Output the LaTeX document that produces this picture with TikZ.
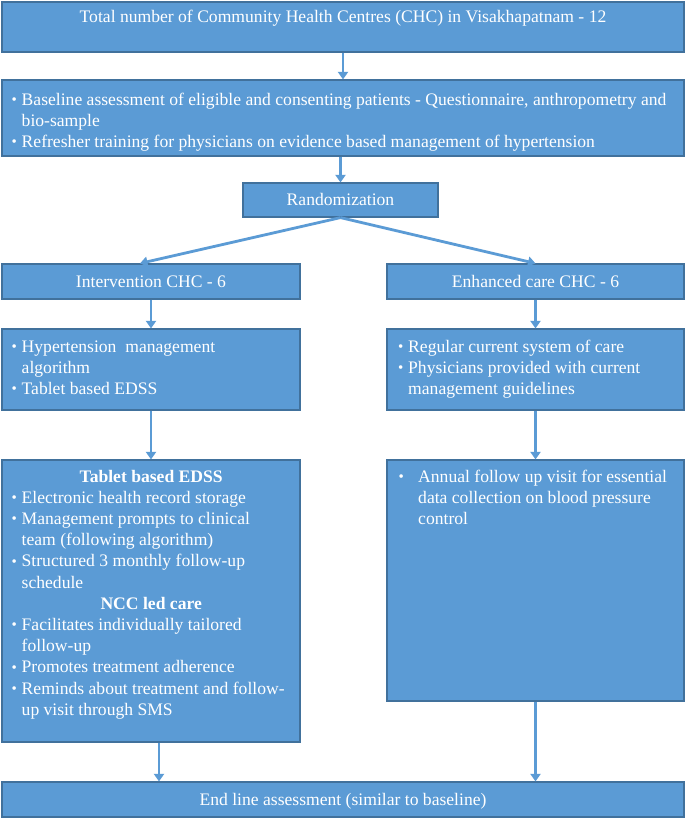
\documentclass[tikz,border=0pt]{standalone}
\usepackage{fontspec}
\setmainfont{Liberation Serif}
\usetikzlibrary{arrows.meta}
\definecolor{boxfill}{HTML}{5B9BD5}
\definecolor{boxline}{HTML}{41719C}
\definecolor{arrowblue}{HTML}{5B9BD5}
\newcommand{\bulglyph}{\raisebox{0.6pt}{\fontsize{15}{15}\selectfont\textbullet}}
\newcommand{\bul}{\makebox[10pt][l]{\bulglyph}}
\newcommand{\ind}{\hspace*{10pt}}
\renewcommand{\arraystretch}{1}
\begin{document}
\begin{tikzpicture}[x=1pt,y=-1pt,
  box/.style={draw=boxline, fill=boxfill, line width=1.2pt, rectangle, inner sep=0pt,
    text=white, font=\fontsize{17.6}{21}\selectfont},
  onel/.style={box, text height=12pt, text depth=0.5pt},
  txt/.style={text=white, inner sep=0pt, anchor=base west, font=\fontsize{17.6}{21}\selectfont},
  arr/.style={draw=arrowblue, line width=2.8pt, -{Triangle[width=10pt,length=7.5pt]}}]
\useasboundingbox[fill=white] (0,0) rectangle (685,819);

\node[box, minimum width=682pt, minimum height=50pt, text height=12pt, text depth=20pt] (b1) at (343,27)
  {Total number of Community Health Centres (CHC) in Visakhapatnam - 12};
\node[box, minimum width=682pt, minimum height=76pt] (b2) at (343,118) {};
\node[onel, minimum width=195pt, minimum height=34pt] (rnd) at (340.5,200) {Randomization};
\node[onel, minimum width=298pt, minimum height=35pt] (int) at (151,281.5) {Intervention CHC - 6};
\node[onel, minimum width=297pt, minimum height=35pt] (enh) at (535.5,281.5) {Enhanced care CHC - 6};
\node[box, minimum width=298pt, minimum height=81pt] (b3l) at (151,369.5) {};
\node[box, minimum width=297pt, minimum height=81pt] (b3r) at (535.5,369.5) {};
\node[box, minimum width=298pt, minimum height=282pt] (b4l) at (151,601) {};
\node[box, minimum width=297pt, minimum height=241pt] (b4r) at (535.5,580.5) {};
\node[onel, minimum width=682pt, minimum height=35pt] (endb) at (343,799.5) {End line assessment (similar to baseline)};

\node[txt] (t2) at (11.5,105) {\begin{tabular}[t]{@{}l@{}}
\bul Baseline assessment of eligible and consenting patients - Questionnaire, anthropometry and\\
\ind bio-sample\\
\bul Refresher training for physicians on evidence based management of hypertension
\end{tabular}};
\node[txt] (t3l) at (11.5,352) {\begin{tabular}[t]{@{}l@{}}
\bul Hypertension\ \ management\\
\ind algorithm\\
\bul Tablet based EDSS
\end{tabular}};
\node[txt] (t3r) at (398,352) {\begin{tabular}[t]{@{}l@{}}
\bul Regular current system of care\\
\bul Physicians provided with current\\
\ind management guidelines
\end{tabular}};
\node[txt] (t4l) at (11.5,482) {\renewcommand{\arraystretch}{1.01}\begin{tabular}[t]{@{}l@{}}
\makebox[279pt][c]{\textbf{Tablet based EDSS}}\\
\bul Electronic health record storage\\
\bul Management prompts to clinical\\
\ind team (following algorithm)\\
\bul Structured 3 monthly follow-up\\
\ind schedule\\
\makebox[279pt][c]{\textbf{NCC led care}}\\
\bul Facilitates individually tailored\\
\ind follow-up\\
\bul Promotes treatment adherence\\
\bul Reminds about treatment and follow-\\
\ind up visit through SMS
\end{tabular}};
\node[txt] (t4r) at (398.5,482) {\renewcommand{\arraystretch}{1.01}\begin{tabular}[t]{@{}l@{}}
\makebox[19.5pt][l]{\bulglyph}Annual follow up visit for essential\\
\hspace*{19.5pt}data collection on blood pressure\\
\hspace*{19.5pt}control
\end{tabular}};

\coordinate (l4) at ([xshift=8pt]b4l.south);
\draw[arr] (b1.south) -- (b2.north);
\draw[arr] (b2.south -| rnd.north) -- (rnd.north);
\draw[arr] (rnd.south) -- ([xshift=-11pt]int.north);
\draw[arr] (rnd.south) -- (enh.north);
\draw[arr] (int.south) -- (b3l.north);
\draw[arr] (enh.south) -- (b3r.north);
\draw[arr] (b3l.south) -- (b4l.north);
\draw[arr] (b3r.south) -- (b4r.north);
\draw[arr] (l4) -- (endb.north -| l4);
\draw[arr] (b4r.south) -- (endb.north -| b4r.south);
\end{tikzpicture}
\end{document}
